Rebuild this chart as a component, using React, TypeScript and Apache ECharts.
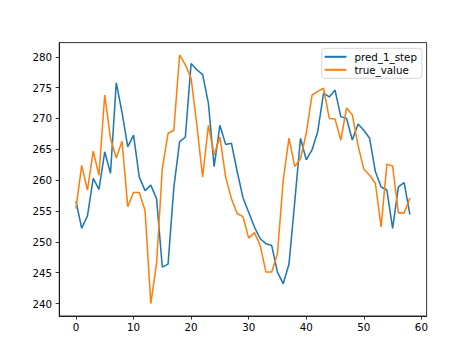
import React, { useEffect, useRef } from "react";
import * as echarts from "echarts";

const predValues = [
  256.6, 252.2, 254.2, 260.3, 258.5, 264.6, 261.1, 275.8, 271.0, 265.4,
  267.3, 260.5, 258.3, 259.2, 257.0, 245.9, 246.4, 258.8, 266.2, 267.0,
  278.9, 277.9, 277.1, 272.5, 262.2, 268.9, 265.8, 266.0, 261.4, 257.2,
  254.8, 252.4, 250.5, 249.7, 249.4, 245.1, 243.2, 246.4, 256.5, 266.8,
  263.3, 264.9, 267.9, 274.1, 273.5, 274.6, 270.3, 270.0, 266.5, 269.1,
  268.1, 266.8, 261.4, 258.9, 258.4, 252.2, 258.9, 259.6, 254.4,
];

const trueValues = [
  255.4, 262.4, 258.4, 264.7, 260.8, 273.8, 266.8, 263.6, 266.3, 255.7,
  258.0, 258.0, 255.1, 240.0, 246.5, 261.9, 267.6, 268.1, 280.3, 278.7,
  276.5, 268.9, 260.5, 268.9, 264.1, 267.0, 260.5, 257.0, 254.6, 254.1,
  250.6, 251.5, 249.4, 245.1, 245.1, 248.1, 260.0, 266.8, 262.2, 263.5,
  267.6, 273.8, 274.4, 274.9, 270.0, 269.9, 266.5, 271.7, 270.6, 265.6,
  261.8, 260.8, 259.5, 252.4, 262.6, 262.3, 254.7, 254.7, 257.1,
];

const xTicks = [0, 10, 20, 30, 40, 50, 60];
const yTicks = [240, 245, 250, 255, 260, 265, 270, 275, 280];

const seriesNames = ["pred_1_step", "true_value"];
const seriesColors = ["#1f77b4", "#ff7f0e"];

export default function App() {
  const ref = useRef<HTMLDivElement>(null);

  useEffect(() => {
    if (!ref.current) return;
    const chart = echarts.init(ref.current, undefined, { renderer: "svg" });
    const font = "DejaVu Sans";
    const fs = 10.3;
    const toPairs = (arr: number[]) => arr.map((v, i) => [i, v]);

    const axisLine = {
      show: true,
      onZero: false,
      lineStyle: { color: "#000", width: 0.8 },
    };
    const tick = {
      show: true,
      inside: false,
      length: 3.6,
      lineStyle: { color: "#000", width: 0.8 },
    };

    chart.setOption({
      animation: false,
      backgroundColor: "#ffffff",
      grid: {
        left: 59.25,
        right: 474 - 426.6,
        top: 42.6,
        bottom: 355 - 316,
        show: true,
        borderColor: "#000",
        borderWidth: 0.8,
        backgroundColor: "transparent",
      },
      xAxis: {
        type: "value",
        min: -2.9,
        max: 60.9,
        axisLine,
        splitLine: { show: false },
        axisTick: { ...tick, customValues: xTicks },
        axisLabel: {
          customValues: xTicks,
          margin: 5.5,
          color: "#000",
          fontFamily: font,
          fontSize: fs,
        },
      },
      yAxis: {
        type: "value",
        min: 237.98,
        max: 282.3,
        axisLine,
        splitLine: { show: false },
        axisTick: { ...tick, customValues: yTicks },
        axisLabel: {
          customValues: yTicks,
          margin: 7.2,
          color: "#000",
          fontFamily: font,
          fontSize: fs,
        },
      },
      legend: {
        orient: "vertical",
        left: 321.7,
        top: 48.3,
        padding: [2, 5, 2, 3],
        itemGap: 0,
        itemWidth: 21.7,
        itemHeight: 2,
        icon: "rect",
        backgroundColor: "rgba(255,255,255,0.8)",
        borderColor: "#cccccc",
        borderWidth: 0.8,
        borderRadius: 3,
        textStyle: {
          fontFamily: font,
          fontSize: fs,
          color: "#000",
          lineHeight: 13,
          padding: [0, 0, 0, 3],
        },
        data: seriesNames,
      },
      series: [
        {
          name: seriesNames[0],
          type: "line",
          data: toPairs(predValues),
          showSymbol: false,
          symbol: "none",
          color: seriesColors[0],
          lineStyle: { color: seriesColors[0], width: 1.54 },
        },
        {
          name: seriesNames[1],
          type: "line",
          data: toPairs(trueValues),
          showSymbol: false,
          symbol: "none",
          color: seriesColors[1],
          lineStyle: { color: seriesColors[1], width: 1.54 },
        },
      ],
    });

    return () => chart.dispose();
  }, []);

  return (
    <div
      ref={ref}
      style={{ position: "fixed", left: 0, top: 0, width: 474, height: 355 }}
    />
  );
}
